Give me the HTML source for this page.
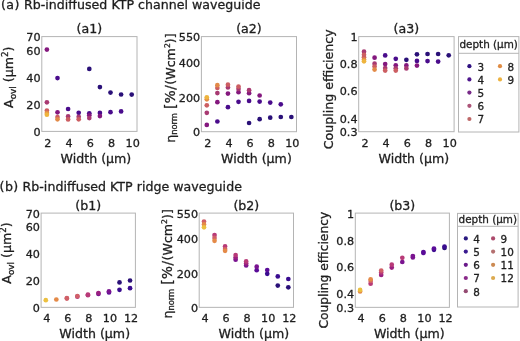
<!DOCTYPE html><html><head><meta charset="utf-8"><style>html,body{margin:0;padding:0;background:#fff;}svg{display:block;} text{stroke:#1e1e1e;stroke-width:0.3px;}</style></head><body>
<svg width="520" height="341" viewBox="0 0 520 341" font-family="'DejaVu Sans', 'Liberation Sans', sans-serif" fill="#1e1e1e">
<rect width="520" height="341" fill="#fff"/>
<text x="1.0" y="9.3" font-size="12.6" letter-spacing="0.4">(a)</text>
<text x="24.0" y="9.3" font-size="12.6" textLength="236.5" lengthAdjust="spacing">Rb-indiffused KTP channel waveguide</text>
<text x="-0.4" y="190.6" font-size="12.6" letter-spacing="0.4">(b)</text>
<text x="22.5" y="190.6" font-size="12.6" textLength="219.4" lengthAdjust="spacing">Rb-indiffused KTP ridge waveguide</text>
<rect x="41.8" y="36.6" width="95.20" height="94.80" fill="none" stroke="#b4b4b4" stroke-width="1"/>
<rect x="201.4" y="36.6" width="95.10" height="95.10" fill="none" stroke="#b4b4b4" stroke-width="1"/>
<rect x="358.7" y="36.6" width="95.40" height="95.10" fill="none" stroke="#b4b4b4" stroke-width="1"/>
<rect x="41.1" y="213.1" width="94.30" height="94.25" fill="none" stroke="#b4b4b4" stroke-width="1"/>
<rect x="199.2" y="213.1" width="94.30" height="94.25" fill="none" stroke="#b4b4b4" stroke-width="1"/>
<rect x="355.3" y="213.1" width="94.10" height="94.25" fill="none" stroke="#b4b4b4" stroke-width="1"/>
<text x="89.40" y="32.7" font-size="12.6" text-anchor="middle">(a1)</text>
<text x="248.95" y="32.7" font-size="12.6" text-anchor="middle">(a2)</text>
<text x="406.40" y="32.7" font-size="12.6" text-anchor="middle">(a3)</text>
<text x="88.25" y="209.9" font-size="12.6" text-anchor="middle">(b1)</text>
<text x="246.35" y="209.9" font-size="12.6" text-anchor="middle">(b2)</text>
<text x="402.35" y="209.9" font-size="12.6" text-anchor="middle">(b3)</text>
<text x="47.90" y="146.5" font-size="11.2" text-anchor="middle">2</text>
<text x="69.10" y="146.5" font-size="11.2" text-anchor="middle">4</text>
<text x="90.30" y="146.5" font-size="11.2" text-anchor="middle">6</text>
<text x="111.50" y="146.5" font-size="11.2" text-anchor="middle">8</text>
<text x="132.70" y="146.5" font-size="11.2" text-anchor="middle">10</text>
<text x="95.90" y="163.2" font-size="12.6" text-anchor="middle">Width (μm)</text>
<text x="207.80" y="146.5" font-size="11.2" text-anchor="middle">2</text>
<text x="228.94" y="146.5" font-size="11.2" text-anchor="middle">4</text>
<text x="250.08" y="146.5" font-size="11.2" text-anchor="middle">6</text>
<text x="271.22" y="146.5" font-size="11.2" text-anchor="middle">8</text>
<text x="292.36" y="146.5" font-size="11.2" text-anchor="middle">10</text>
<text x="256.45" y="163.2" font-size="12.6" text-anchor="middle">Width (μm)</text>
<text x="365.00" y="146.5" font-size="11.2" text-anchor="middle">2</text>
<text x="386.18" y="146.5" font-size="11.2" text-anchor="middle">4</text>
<text x="407.36" y="146.5" font-size="11.2" text-anchor="middle">6</text>
<text x="428.54" y="146.5" font-size="11.2" text-anchor="middle">8</text>
<text x="449.72" y="146.5" font-size="11.2" text-anchor="middle">10</text>
<text x="413.85" y="163.2" font-size="12.6" text-anchor="middle">Width (μm)</text>
<text x="46.80" y="321.7" font-size="11.2" text-anchor="middle">4</text>
<text x="67.86" y="321.7" font-size="11.2" text-anchor="middle">6</text>
<text x="88.92" y="321.7" font-size="11.2" text-anchor="middle">8</text>
<text x="109.98" y="321.7" font-size="11.2" text-anchor="middle">10</text>
<text x="131.04" y="321.7" font-size="11.2" text-anchor="middle">12</text>
<text x="94.70" y="337.6" font-size="12.6" text-anchor="middle">Width (μm)</text>
<text x="205.00" y="321.7" font-size="11.2" text-anchor="middle">4</text>
<text x="226.08" y="321.7" font-size="11.2" text-anchor="middle">6</text>
<text x="247.16" y="321.7" font-size="11.2" text-anchor="middle">8</text>
<text x="268.24" y="321.7" font-size="11.2" text-anchor="middle">10</text>
<text x="289.32" y="321.7" font-size="11.2" text-anchor="middle">12</text>
<text x="253.85" y="337.6" font-size="12.6" text-anchor="middle">Width (μm)</text>
<text x="361.10" y="321.7" font-size="11.2" text-anchor="middle">4</text>
<text x="382.20" y="321.7" font-size="11.2" text-anchor="middle">6</text>
<text x="403.30" y="321.7" font-size="11.2" text-anchor="middle">8</text>
<text x="424.40" y="321.7" font-size="11.2" text-anchor="middle">10</text>
<text x="445.50" y="321.7" font-size="11.2" text-anchor="middle">12</text>
<text x="409.30" y="337.6" font-size="12.6" text-anchor="middle">Width (μm)</text>
<text x="40.60" y="135.88" font-size="11.2" text-anchor="end">0</text>
<text x="40.60" y="108.80" font-size="11.2" text-anchor="end">20</text>
<text x="40.60" y="81.71" font-size="11.2" text-anchor="end">40</text>
<text x="40.60" y="54.63" font-size="11.2" text-anchor="end">60</text>
<text x="40.60" y="41.08" font-size="11.2" text-anchor="end">70</text>
<text x="39.90" y="311.83" font-size="11.2" text-anchor="end">0</text>
<text x="39.90" y="284.90" font-size="11.2" text-anchor="end">20</text>
<text x="39.90" y="257.98" font-size="11.2" text-anchor="end">40</text>
<text x="39.90" y="231.05" font-size="11.2" text-anchor="end">60</text>
<text x="39.90" y="217.58" font-size="11.2" text-anchor="end">70</text>
<text x="200.20" y="136.18" font-size="11.2" text-anchor="end">0</text>
<text x="200.20" y="101.60" font-size="11.2" text-anchor="end">200</text>
<text x="200.20" y="67.02" font-size="11.2" text-anchor="end">400</text>
<text x="200.20" y="41.08" font-size="11.2" text-anchor="end">550</text>
<text x="198.00" y="311.83" font-size="11.2" text-anchor="end">0</text>
<text x="198.00" y="277.56" font-size="11.2" text-anchor="end">200</text>
<text x="198.00" y="243.29" font-size="11.2" text-anchor="end">400</text>
<text x="198.00" y="217.58" font-size="11.2" text-anchor="end">550</text>
<text x="357.50" y="136.18" font-size="11.2" text-anchor="end">0.3</text>
<text x="357.50" y="122.60" font-size="11.2" text-anchor="end">0.4</text>
<text x="357.50" y="95.43" font-size="11.2" text-anchor="end">0.6</text>
<text x="357.50" y="68.25" font-size="11.2" text-anchor="end">0.8</text>
<text x="357.50" y="41.08" font-size="11.2" text-anchor="end">1</text>
<text x="354.10" y="311.83" font-size="11.2" text-anchor="end">0.3</text>
<text x="354.10" y="298.37" font-size="11.2" text-anchor="end">0.4</text>
<text x="354.10" y="271.44" font-size="11.2" text-anchor="end">0.6</text>
<text x="354.10" y="244.51" font-size="11.2" text-anchor="end">0.8</text>
<text x="354.10" y="217.58" font-size="11.2" text-anchor="end">1</text>
<text transform="translate(13.0,107.9) rotate(-90)" font-size="12.6">A<tspan font-size="8.8" dy="2.8">ovl</tspan><tspan dy="-2.8"> (μm</tspan><tspan font-size="8.8" dy="-5">2</tspan><tspan dy="5">)</tspan></text>
<text transform="translate(11.3,283.7) rotate(-90)" font-size="12.6">A<tspan font-size="8.8" dy="2.8">ovl</tspan><tspan dy="-2.8"> (μm</tspan><tspan font-size="8.8" dy="-5">2</tspan><tspan dy="5">)</tspan></text>
<text transform="translate(174.6,142.8) rotate(-90)" font-size="12.6">η<tspan font-size="8.35" dy="2.8">norm</tspan><tspan dy="-2.8"> </tspan><tspan font-size="13.6" letter-spacing="0.5">[%/</tspan><tspan>(Wcm</tspan><tspan font-size="7.8" dy="-4.4">2</tspan><tspan dy="4.4">)]</tspan></text>
<text transform="translate(171.6,318.6) rotate(-90)" font-size="12.6">η<tspan font-size="8.35" dy="2.8">norm</tspan><tspan dy="-2.8"> </tspan><tspan font-size="13.6" letter-spacing="0.5">[%/</tspan><tspan>(Wcm</tspan><tspan font-size="7.8" dy="-4.4">2</tspan><tspan dy="4.4">)]</tspan></text>
<text transform="translate(332.6,149.2) rotate(-90)" font-size="12.6">Coupling efficiency</text>
<text transform="translate(327.8,328.6) rotate(-90)" font-size="12.6" textLength="116.8" lengthAdjust="spacingAndGlyphs">Coupling efficiency</text>
<circle cx="89.30" cy="68.9" r="2.35" fill="#2a1078"/>
<circle cx="99.90" cy="87.1" r="2.35" fill="#2a1078"/>
<circle cx="110.50" cy="92.6" r="2.35" fill="#2a1078"/>
<circle cx="121.10" cy="94.5" r="2.35" fill="#2a1078"/>
<circle cx="131.70" cy="94.6" r="2.35" fill="#2a1078"/>
<circle cx="57.50" cy="78.1" r="2.35" fill="#4a0c8c"/>
<circle cx="68.10" cy="109.0" r="2.35" fill="#4a0c8c"/>
<circle cx="78.70" cy="112.8" r="2.35" fill="#4a0c8c"/>
<circle cx="89.30" cy="113.3" r="2.35" fill="#4a0c8c"/>
<circle cx="99.90" cy="112.9" r="2.35" fill="#4a0c8c"/>
<circle cx="110.50" cy="112.2" r="2.35" fill="#4a0c8c"/>
<circle cx="121.10" cy="111.4" r="2.35" fill="#4a0c8c"/>
<circle cx="46.90" cy="49.6" r="2.35" fill="#84187e"/>
<circle cx="57.50" cy="112.3" r="2.35" fill="#84187e"/>
<circle cx="89.30" cy="115.3" r="2.35" fill="#84187e"/>
<circle cx="99.90" cy="116.1" r="2.35" fill="#84187e"/>
<circle cx="46.90" cy="102.3" r="2.35" fill="#a83a72"/>
<circle cx="68.10" cy="116.4" r="2.35" fill="#a83a72"/>
<circle cx="78.70" cy="116.8" r="2.35" fill="#a83a72"/>
<circle cx="89.30" cy="118.1" r="2.35" fill="#a83a72"/>
<circle cx="46.90" cy="110.5" r="2.35" fill="#cc5e62"/>
<circle cx="57.50" cy="117.0" r="2.35" fill="#cc5e62"/>
<circle cx="68.10" cy="119.4" r="2.35" fill="#cc5e62"/>
<circle cx="78.70" cy="119.3" r="2.35" fill="#cc5e62"/>
<circle cx="46.90" cy="112.9" r="2.35" fill="#e28a48"/>
<circle cx="57.50" cy="119.3" r="2.35" fill="#e28a48"/>
<circle cx="46.90" cy="114.7" r="2.35" fill="#eeb43e"/>
<circle cx="249.08" cy="123.0" r="2.35" fill="#2a1078"/>
<circle cx="259.65" cy="119.2" r="2.35" fill="#2a1078"/>
<circle cx="270.22" cy="117.7" r="2.35" fill="#2a1078"/>
<circle cx="280.79" cy="117.0" r="2.35" fill="#2a1078"/>
<circle cx="291.36" cy="117.0" r="2.35" fill="#2a1078"/>
<circle cx="217.37" cy="121.5" r="2.35" fill="#4a0c8c"/>
<circle cx="227.94" cy="107.2" r="2.35" fill="#4a0c8c"/>
<circle cx="238.51" cy="101.8" r="2.35" fill="#4a0c8c"/>
<circle cx="249.08" cy="100.9" r="2.35" fill="#4a0c8c"/>
<circle cx="259.65" cy="101.6" r="2.35" fill="#4a0c8c"/>
<circle cx="270.22" cy="102.6" r="2.35" fill="#4a0c8c"/>
<circle cx="280.79" cy="104.3" r="2.35" fill="#4a0c8c"/>
<circle cx="206.80" cy="124.9" r="2.35" fill="#84187e"/>
<circle cx="217.37" cy="102.2" r="2.35" fill="#84187e"/>
<circle cx="227.94" cy="93.6" r="2.35" fill="#84187e"/>
<circle cx="238.51" cy="92.2" r="2.35" fill="#84187e"/>
<circle cx="249.08" cy="93.2" r="2.35" fill="#84187e"/>
<circle cx="259.65" cy="95.5" r="2.35" fill="#84187e"/>
<circle cx="206.80" cy="112.8" r="2.35" fill="#a83a72"/>
<circle cx="217.37" cy="93.1" r="2.35" fill="#a83a72"/>
<circle cx="227.94" cy="87.5" r="2.35" fill="#a83a72"/>
<circle cx="238.51" cy="88.9" r="2.35" fill="#a83a72"/>
<circle cx="249.08" cy="90.2" r="2.35" fill="#a83a72"/>
<circle cx="206.80" cy="105.3" r="2.35" fill="#cc5e62"/>
<circle cx="217.37" cy="88.0" r="2.35" fill="#cc5e62"/>
<circle cx="227.94" cy="84.7" r="2.35" fill="#cc5e62"/>
<circle cx="238.51" cy="86.6" r="2.35" fill="#cc5e62"/>
<circle cx="206.80" cy="99.3" r="2.35" fill="#e28a48"/>
<circle cx="217.37" cy="85.2" r="2.35" fill="#e28a48"/>
<circle cx="206.80" cy="97.3" r="2.35" fill="#eeb43e"/>
<circle cx="406.36" cy="59.8" r="2.35" fill="#2a1078"/>
<circle cx="416.95" cy="54.3" r="2.35" fill="#2a1078"/>
<circle cx="427.54" cy="54.0" r="2.35" fill="#2a1078"/>
<circle cx="438.13" cy="54.0" r="2.35" fill="#2a1078"/>
<circle cx="448.72" cy="55.3" r="2.35" fill="#2a1078"/>
<circle cx="385.18" cy="55.4" r="2.35" fill="#4a0c8c"/>
<circle cx="395.77" cy="58.8" r="2.35" fill="#4a0c8c"/>
<circle cx="416.95" cy="60.9" r="2.35" fill="#4a0c8c"/>
<circle cx="427.54" cy="61.1" r="2.35" fill="#4a0c8c"/>
<circle cx="438.13" cy="61.6" r="2.35" fill="#4a0c8c"/>
<circle cx="374.59" cy="57.7" r="2.35" fill="#84187e"/>
<circle cx="385.18" cy="64.1" r="2.35" fill="#84187e"/>
<circle cx="395.77" cy="65.3" r="2.35" fill="#84187e"/>
<circle cx="406.36" cy="65.4" r="2.35" fill="#84187e"/>
<circle cx="416.95" cy="65.6" r="2.35" fill="#84187e"/>
<circle cx="364.00" cy="51.7" r="2.35" fill="#a83a72"/>
<circle cx="374.59" cy="63.7" r="2.35" fill="#a83a72"/>
<circle cx="385.18" cy="68.0" r="2.35" fill="#a83a72"/>
<circle cx="395.77" cy="68.3" r="2.35" fill="#a83a72"/>
<circle cx="406.36" cy="68.4" r="2.35" fill="#a83a72"/>
<circle cx="364.00" cy="54.8" r="2.35" fill="#cc5e62"/>
<circle cx="364.00" cy="57.2" r="2.35" fill="#cc5e62"/>
<circle cx="374.59" cy="66.6" r="2.35" fill="#cc5e62"/>
<circle cx="385.18" cy="70.6" r="2.35" fill="#cc5e62"/>
<circle cx="395.77" cy="70.6" r="2.35" fill="#cc5e62"/>
<circle cx="364.00" cy="59.6" r="2.35" fill="#e28a48"/>
<circle cx="374.59" cy="69.6" r="2.35" fill="#e28a48"/>
<circle cx="364.00" cy="61.3" r="2.35" fill="#eeb43e"/>
<circle cx="119.51" cy="282.4" r="2.35" fill="#2a1078"/>
<circle cx="130.04" cy="280.5" r="2.35" fill="#2a1078"/>
<circle cx="119.51" cy="289.8" r="2.35" fill="#3a0c90"/>
<circle cx="130.04" cy="288.2" r="2.35" fill="#3a0c90"/>
<circle cx="108.98" cy="292.4" r="2.35" fill="#5a0c98"/>
<circle cx="98.45" cy="293.9" r="2.35" fill="#7a1490"/>
<circle cx="108.98" cy="291.3" r="2.35" fill="#7a1490"/>
<circle cx="98.45" cy="293.0" r="2.35" fill="#9a2080"/>
<circle cx="77.39" cy="296.7" r="2.35" fill="#b83a78"/>
<circle cx="87.92" cy="295.2" r="2.35" fill="#b83a78"/>
<circle cx="87.92" cy="294.6" r="2.35" fill="#b83a78"/>
<circle cx="66.86" cy="298.6" r="2.35" fill="#d06068"/>
<circle cx="66.86" cy="298.0" r="2.35" fill="#d06068"/>
<circle cx="77.39" cy="296.0" r="2.35" fill="#d06068"/>
<circle cx="56.33" cy="299.5" r="2.35" fill="#e48a48"/>
<circle cx="45.80" cy="300.2" r="2.35" fill="#ecc040"/>
<circle cx="277.78" cy="285.6" r="2.35" fill="#2a1078"/>
<circle cx="288.32" cy="287.3" r="2.35" fill="#2a1078"/>
<circle cx="267.24" cy="273.8" r="2.35" fill="#3a0c90"/>
<circle cx="277.78" cy="276.4" r="2.35" fill="#3a0c90"/>
<circle cx="288.32" cy="279.0" r="2.35" fill="#3a0c90"/>
<circle cx="256.70" cy="270.2" r="2.35" fill="#5a0c98"/>
<circle cx="267.24" cy="270.0" r="2.35" fill="#5a0c98"/>
<circle cx="235.62" cy="259.7" r="2.35" fill="#7a1490"/>
<circle cx="246.16" cy="265.5" r="2.35" fill="#7a1490"/>
<circle cx="256.70" cy="266.7" r="2.35" fill="#7a1490"/>
<circle cx="235.62" cy="257.5" r="2.35" fill="#9a2080"/>
<circle cx="246.16" cy="263.5" r="2.35" fill="#9a2080"/>
<circle cx="214.54" cy="235.0" r="2.35" fill="#b83a78"/>
<circle cx="225.08" cy="246.4" r="2.35" fill="#b83a78"/>
<circle cx="235.62" cy="255.0" r="2.35" fill="#b83a78"/>
<circle cx="246.16" cy="261.4" r="2.35" fill="#b83a78"/>
<circle cx="204.00" cy="221.5" r="2.35" fill="#d06068"/>
<circle cx="214.54" cy="237.9" r="2.35" fill="#d06068"/>
<circle cx="225.08" cy="249.0" r="2.35" fill="#d06068"/>
<circle cx="204.00" cy="224.4" r="2.35" fill="#e48a48"/>
<circle cx="214.54" cy="240.8" r="2.35" fill="#e48a48"/>
<circle cx="225.08" cy="250.8" r="2.35" fill="#e48a48"/>
<circle cx="204.00" cy="227.3" r="2.35" fill="#ecc040"/>
<circle cx="444.50" cy="248.0" r="2.35" fill="#2a1078"/>
<circle cx="433.95" cy="249.8" r="2.35" fill="#3a0c90"/>
<circle cx="444.50" cy="246.6" r="2.35" fill="#3a0c90"/>
<circle cx="423.40" cy="253.0" r="2.35" fill="#5a0c98"/>
<circle cx="423.40" cy="252.0" r="2.35" fill="#5a0c98"/>
<circle cx="433.95" cy="248.5" r="2.35" fill="#5a0c98"/>
<circle cx="402.30" cy="262.0" r="2.35" fill="#7a1490"/>
<circle cx="412.85" cy="257.5" r="2.35" fill="#7a1490"/>
<circle cx="412.85" cy="256.0" r="2.35" fill="#7a1490"/>
<circle cx="381.20" cy="275.0" r="2.35" fill="#9a2080"/>
<circle cx="391.75" cy="267.6" r="2.35" fill="#9a2080"/>
<circle cx="370.65" cy="283.7" r="2.35" fill="#b83a78"/>
<circle cx="381.20" cy="272.5" r="2.35" fill="#b83a78"/>
<circle cx="391.75" cy="264.7" r="2.35" fill="#b83a78"/>
<circle cx="402.30" cy="257.8" r="2.35" fill="#b83a78"/>
<circle cx="370.65" cy="281.0" r="2.35" fill="#d06068"/>
<circle cx="381.20" cy="270.5" r="2.35" fill="#d06068"/>
<circle cx="360.10" cy="291.4" r="2.35" fill="#e48a48"/>
<circle cx="370.65" cy="279.3" r="2.35" fill="#e48a48"/>
<circle cx="360.10" cy="289.9" r="2.35" fill="#ecc040"/>
<rect x="458.5" y="36.6" width="60.40" height="95.40" fill="#fff" stroke="#b4b4b4" stroke-width="1"/>
<line x1="458.5" y1="53.3" x2="518.9" y2="53.3" stroke="#b4b4b4" stroke-width="1"/>
<text x="488.70" y="48.1" font-size="10.4" text-anchor="middle">depth (μm)</text>
<circle cx="469.4" cy="66.2" r="2.1" fill="#2e1080"/>
<text x="477.6" y="70.60" font-size="10.4">3</text>
<circle cx="469.4" cy="79.4" r="2.1" fill="#4e168c"/>
<text x="477.6" y="83.80" font-size="10.4">4</text>
<circle cx="469.4" cy="92.6" r="2.1" fill="#782a88"/>
<text x="477.6" y="97.00" font-size="10.4">5</text>
<circle cx="469.4" cy="105.8" r="2.1" fill="#ac5478"/>
<text x="477.6" y="110.20" font-size="10.4">6</text>
<circle cx="469.4" cy="119.0" r="2.1" fill="#be6868"/>
<text x="477.6" y="123.40" font-size="10.4">7</text>
<circle cx="500.0" cy="66.2" r="2.1" fill="#e08c44"/>
<text x="507.6" y="70.60" font-size="10.4">8</text>
<circle cx="500.0" cy="79.4" r="2.1" fill="#ecb240"/>
<text x="507.6" y="83.80" font-size="10.4">9</text>
<rect x="457.5" y="213.4" width="60.60" height="93.60" fill="#fff" stroke="#b4b4b4" stroke-width="1"/>
<line x1="457.5" y1="226.3" x2="518.1" y2="226.3" stroke="#b4b4b4" stroke-width="1"/>
<text x="487.80" y="223.2" font-size="10.4" text-anchor="middle">depth (μm)</text>
<circle cx="465.8" cy="238.4" r="2.1" fill="#2a1a80"/>
<text x="473.3" y="242.80" font-size="10.4">4</text>
<circle cx="465.8" cy="251.6" r="2.1" fill="#3a1a90"/>
<text x="473.3" y="256.00" font-size="10.4">5</text>
<circle cx="465.8" cy="264.8" r="2.1" fill="#6a1a8a"/>
<text x="473.3" y="269.20" font-size="10.4">6</text>
<circle cx="465.8" cy="278.0" r="2.1" fill="#8a2a8a"/>
<text x="473.3" y="282.40" font-size="10.4">7</text>
<circle cx="465.8" cy="291.2" r="2.1" fill="#944a72"/>
<text x="473.3" y="295.60" font-size="10.4">8</text>
<circle cx="493.1" cy="238.4" r="2.1" fill="#ac4a6c"/>
<text x="500.6" y="242.80" font-size="10.4">9</text>
<circle cx="493.1" cy="251.6" r="2.1" fill="#b47070"/>
<text x="500.6" y="256.00" font-size="10.4">10</text>
<circle cx="493.1" cy="264.8" r="2.1" fill="#cc8a52"/>
<text x="500.6" y="269.20" font-size="10.4">11</text>
<circle cx="493.1" cy="278.0" r="2.1" fill="#dcaa50"/>
<text x="500.6" y="282.40" font-size="10.4">12</text>
</svg></body></html>
